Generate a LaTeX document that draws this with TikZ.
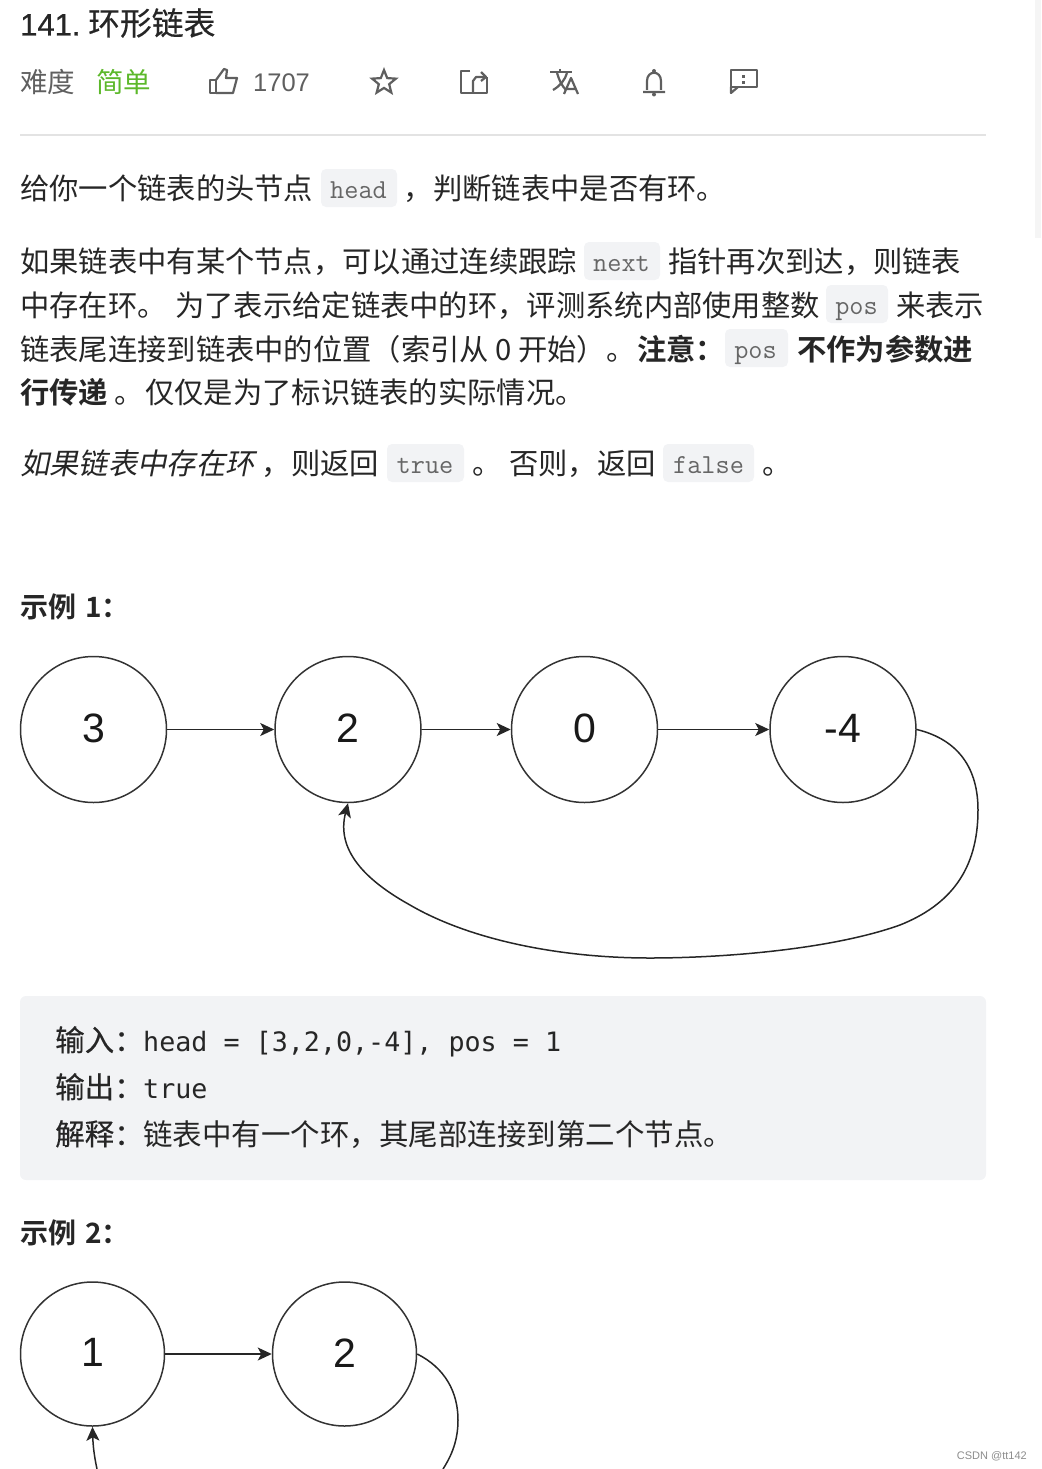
\documentclass[tikz,border=0pt]{standalone}
\usepackage{fontspec}
\setmainfont{Liberation Sans}
\setmonofont{Latin Modern Mono}
\newfontfamily\cjk[BoldFont={Noto Sans CJK SC Bold}]{Noto Sans CJK SC}
\newfontfamily\cjkslant[FakeSlant=0.2]{Noto Sans CJK SC}
\newfontfamily\cjkmedium[FakeBold=0.4]{Noto Sans CJK SC}
\newfontfamily\nummedium[FakeBold=0.6]{Liberation Sans}
\newfontfamily\blockmono{DejaVu Sans Mono}
\usetikzlibrary{arrows.meta,shapes.geometric}
\definecolor{ink}{HTML}{262626}
\definecolor{dim}{HTML}{5F5F5F}
\definecolor{codebg}{HTML}{F2F3F5}
\definecolor{easygreen}{HTML}{5CB82A}
\tikzset{
	txt/.style={anchor=base west, inner sep=0pt, text=ink, font=\cjk\fontsize{29.3}{30}\selectfont},
	boldtxt/.style={txt, font=\cjk\bfseries\fontsize{29.3}{30}\selectfont},
	slanttxt/.style={txt, font=\cjkslant\fontsize{29.3}{30}\selectfont},
	chip/.style={fill=codebg, rounded corners=5pt},
	chiptxt/.style={anchor=base, inner sep=0pt, text=black!60, font=\ttfamily\fontsize{27.5}{28}\selectfont},
	blocktxt/.style={anchor=base west, inner sep=0pt, text=black!85, font=\blockmono\fontsize{26.7}{28}\selectfont},
	listnode/.style={circle, draw=black!80, line width=1.5pt, minimum size=146pt, inner sep=0pt, text depth=0pt, font=\fontsize{41}{42}\selectfont, text=black!90},
	link/.style={line width=1.5pt, draw=black!85, -{Stealth[length=14pt,width=13pt,inset=3.5pt]}},
	icon/.style={line width=2.2pt, draw=dim, line join=round},
}
\begin{document}
\begin{tikzpicture}[x=1pt,y=-1pt]
		%%%%% START %%%%%
		\useasboundingbox (0,0) rectangle (1041,1469);
		\clip (0,0) rectangle (1041,1469);
		
		\fill[black!4] (1035,0) rectangle (1041,238);
		
		% header
		\node[txt, font=\nummedium\fontsize{31}{32}\selectfont] (num) at (20,35.5) {141.};
		\node[txt, font=\cjkmedium\fontsize{31.8}{32}\selectfont] (title) at (88,35) {环形链表};
		\node[txt, text=dim, font=\cjk\fontsize{27.5}{28}\selectfont] (level) at (20,93) {难度};
		\node[txt, text=easygreen, font=\cjk\fontsize{27.5}{28}\selectfont] (easy) at (96,93) {简单};
		\node[txt, text=dim, font=\fontsize{25.5}{26}\selectfont] (likes) at (253,92) {1707};
		
		% icons
		\draw[icon] (210,80) rectangle (216,93);
		\draw[icon] (216,80) -- (224,69) -- (227,70) -- (226,78) -- (237,78) -- (233,93) -- (216,93);
		\node[star, star points=5, star point ratio=2.3, draw=dim, line width=2.2pt, minimum size=25pt, inner sep=0pt] (fav) at (384,82.5) {};
		\draw[icon] (470,71) -- (461,71) -- (461,93) -- (487,93) -- (487,77);
		\draw[icon] (473,92) -- (473,81) -- (476,77) -- (484,77);
		\draw[icon] (481,72) -- (486,77) -- (481,81);
		\draw[icon] (550,72) -- (572,72) (560,69) -- (560,72);
		\draw[icon] (557,73) .. controls (559,80) and (562,86) .. (566,90);
		\draw[icon] (567,73) .. controls (565,80) and (560,86) .. (553,90);
		\draw[icon] (564,94) -- (571,78) -- (578,94) (567,89) -- (575,89);
		\draw[icon] (643,92) -- (665,92) (647,90) -- (647,81) .. controls (647,70) and (661,70) .. (661,81) -- (661,90);
		\fill[dim] (654,71) circle (2);
		\fill[dim] (654,94.5) circle (2);
		\draw[icon] (731,70) rectangle (757,87);
		\draw[icon] (731,87) -- (731,93) -- (738,87);
		\draw[icon] (743.5,75) -- (743.5,78);
		\draw[icon] (743.5,81.5) -- (743.5,84);
		
		\draw[black!11, line width=2pt] (20,135) -- (986,135);
		
		% paragraph chips
		\fill[chip] (321,169) rectangle (397,207);
		\fill[chip] (584,242) rectangle (660,280);
		\fill[chip] (826,285) rectangle (888,323);
		\fill[chip] (725,329) rectangle (788,367);
		\fill[chip] (387,444) rectangle (464,482);
		\fill[chip] (663,444) rectangle (754,482);
		\node[chiptxt] (chead) at (358.5,198) {head};
		\node[chiptxt] (cnext) at (621.5,271) {next};
		\node[chiptxt] (cpos) at (856.5,314) {pos};
		\node[chiptxt] (cposb) at (755.5,358) {pos};
		\node[chiptxt] (ctrue) at (425,473) {true};
		\node[chiptxt] (cfalse) at (708.5,473) {false};
		
		% paragraphs
		\node[txt] (la) at (20,199) {给你一个链表的头节点};
		\node[txt] (lb) at (403,199) {，};
		\node[txt] (lc) at (433,199) {判断链表中是否有环。};
		
		\node[txt] (ma) at (20,272) {如果链表中有某个节点，可以通过连续跟踪};
		\node[txt] (mb) at (668,272) {指针再次到达，则链表};
		\node[txt] (na) at (20,316) {中存在环。};
		\node[txt] (nb) at (175,316) {为了表示给定链表中的环，评测系统内部使用整数};
		\node[txt] (nc) at (896,316) {来表示};
		\node[txt] (oa) at (20,360) {链表尾连接到链表中的位置（索引从 0 开始）。};
		\node[boldtxt] (ob) at (637,360) {注意：};
		\node[boldtxt] (oc) at (797,360) {不作为参数进};
		\node[boldtxt] (pa) at (20,403) {行传递};
		\node[txt] (pb) at (114,403) {。};
		\node[txt] (pc) at (145,403) {仅仅是为了标识链表的实际情况。};
		
		\node[slanttxt] (qa) at (20,474) {如果链表中存在环};
		\node[txt] (qb) at (261,474) {，};
		\node[txt] (qc) at (291,474) {则返回};
		\node[txt] (qd) at (472,474) {。};
		\node[txt] (qe) at (509,474) {否则，返回};
		\node[txt] (qf) at (762,474) {。};
		
		% example one
		\node[boldtxt, font=\cjk\bfseries\fontsize{28}{28}\selectfont] (exa) at (20,617) {示例\hspace{9pt}1：};
		
		\node[listnode] (three) at (93.5,729.5) {\raisebox{2.5pt}{3}};
		\node[listnode] (two) at (348,729.5) {\raisebox{2.5pt}{2}};
		\node[listnode] (zero) at (584.5,729.5) {\raisebox{2.5pt}{0}};
		\node[listnode] (four) at (843,729.5) {\raisebox{2.5pt}{-4}};
		
		\draw[link] (three) -- (two);
		\draw[link] (two) -- (zero);
		\draw[link] (zero) -- (four);
		\draw[link] (four.east) .. controls (960,740) and (978,770) .. (978,810) .. controls (978,870) and (950,905) .. (900,925) .. controls (830,950) and (720,958) .. (650,958) .. controls (560,958) and (470,940) .. (410,905) .. controls (365,880) and (336,850) .. (two.south);
		
		% block
		\fill[codebg, rounded corners=6pt] (20,996) rectangle (986,1180);
		\node[txt, font=\cjkmedium\fontsize{29.5}{30}\selectfont] (ina) at (55,1051) {输入：};
		\node[blocktxt] (inb) at (143,1051) {head = [3,2,0,-4], pos = 1};
		\node[txt, font=\cjkmedium\fontsize{29.5}{30}\selectfont] (outa) at (55,1098) {输出：};
		\node[blocktxt] (outb) at (143,1098) {true};
		\node[txt, font=\cjkmedium\fontsize{29.5}{30}\selectfont] (whya) at (55,1145) {解释：};
		\node[txt, font=\cjk\fontsize{29.5}{30}\selectfont] (whyb) at (143,1145) {链表中有一个环，其尾部连接到第二个节点。};
		
		% example two
		\node[boldtxt, font=\cjk\bfseries\fontsize{28}{28}\selectfont] (exb) at (20,1243) {示例\hspace{9pt}2：};
		
		\node[listnode, minimum size=144pt] (one) at (92.5,1354) {\raisebox{2.5pt}{1}};
		\node[listnode, minimum size=144pt] (twob) at (344.5,1354) {\raisebox{2.5pt}{2}};
		\coordinate (tailout) at (443,1469);
		\coordinate (tailin) at (97,1469);
		
		\draw[link] (one) -- (twob);
		\draw[line width=1.5pt, draw=black!85] (twob.east) .. controls (445,1368) and (458,1392) .. (458,1420) .. controls (458,1440) and (452,1455) .. (tailout);
		\draw[link] (tailin) .. controls (94,1455) and (93,1445) .. (one.south);
		
		\node[anchor=base east, inner sep=0pt, text=black!45, font=\fontsize{11}{12}\selectfont] (mark) at (1027,1459) {CSDN @tt142};
		
		%%%%% END %%%%%
	\end{tikzpicture}
\end{document}
